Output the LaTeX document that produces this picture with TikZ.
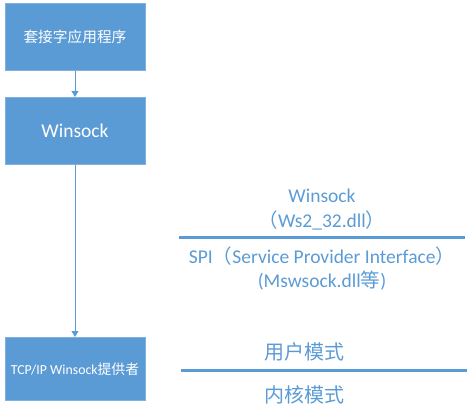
\documentclass[tikz,border=0pt]{standalone}
\usepackage{fontspec}
\setmainfont{Carlito}
\newfontfamily\cjk{Noto Sans CJK SC}
\usetikzlibrary{arrows.meta}
\definecolor{boxblue}{HTML}{5B9BD5}
\definecolor{edgeblue}{HTML}{7EB1E0}

\begin{document}
\begin{tikzpicture}[x=1pt, y=-1pt,
  layerbox/.style={draw=edgeblue, line width=1pt, fill=boxblue, text=white, minimum width=140pt, minimum height=67pt, inner sep=2pt},
  flow/.style={-{Triangle[width=7pt,length=6pt]}, draw=boxblue, line width=0.8pt},
  divider/.style={draw=boxblue, line width=3pt},
  caption/.style={text=boxblue, font=\fontsize{19.5}{22}\selectfont}]
  \useasboundingbox (0,0) rectangle (474,414);
  % left column
  \node[layerbox, font=\cjk\fontsize{14.7}{17}\selectfont] (app) at (75,37) {套接字应用程序};
  \node[layerbox, font=\fontsize{19.5}{22}\selectfont] (ws) at (75,131) {Winsock};
  \node[layerbox, minimum height=63pt, font=\fontsize{13.8}{16}\selectfont] (tcp) at (75,369) {TCP/IP Winsock{\cjk 提供者}};
  \draw[flow] (app) -- (ws);
  \draw[flow] (ws) -- (tcp);
  % right side: SPI boundary
  \coordinate (spiL) at (179,238);
  \coordinate (spiR) at (465,238);
  \draw[divider] (spiL) -- (spiR);
  \node[caption] (wsname) at (322,196) {Winsock};
  \node[caption] (wsdll) at (322,220) {{\cjk （}Ws2\_32.dll{\cjk ）}};
  \node[caption] (spi) at (322,256) {SPI{\cjk （}Service Provider Interface{\cjk ）}};
  \node[caption] (msw) at (322,281) {(Mswsock.dll{\cjk 等})};
  % user / kernel boundary
  \coordinate (modeL) at (181,370);
  \coordinate (modeR) at (467,370);
  \draw[divider] (modeL) -- (modeR);
  \node[caption, font=\cjk\fontsize{20}{22}\selectfont] (user) at (304,352) {用户模式};
  \node[caption, font=\cjk\fontsize{20}{22}\selectfont] (kernel) at (304,395) {内核模式};
\end{tikzpicture}
\end{document}
